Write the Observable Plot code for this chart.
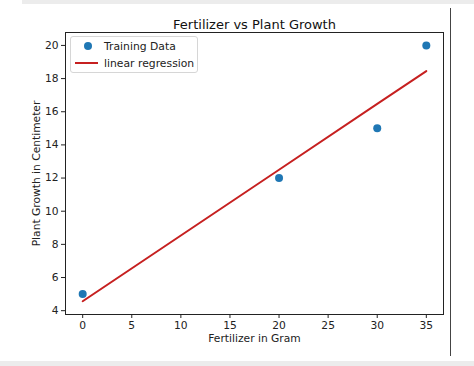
<!DOCTYPE html>
<html>
<head>
<meta charset="utf-8">
<script src="https://cdn.jsdelivr.net/npm/d3@7"></script>
<script src="https://cdn.jsdelivr.net/npm/@observablehq/plot@0.6"></script>
<style>
  html, body { margin: 0; padding: 0; background: #fff; }
  body { width: 474px; height: 366px; position: relative; overflow: hidden; font-family: "DejaVu Sans", sans-serif; }
  #chart { position: absolute; left: 0; top: 0; }
  .band-top { position: absolute; left: 22px; top: 0; width: 452px; height: 4px; background: #ececec; }
  .band-bot { position: absolute; left: 0; top: 361px; width: 474px; height: 5px; background: #ececec; }
  .vline { position: absolute; left: 450px; top: 8px; width: 1.3px; height: 348px; background: #444; }
  .legend { position: absolute; left: 70px; top: 36px; width: 126px; height: 35px; border: 1px solid #d6d6d6; border-radius: 3px; background: rgba(255,255,255,0.85); }
</style>
</head>
<body>
<div class="band-top"></div>
<div class="band-bot"></div>
<div class="vline"></div>
<div id="chart"></div>
<div class="legend">
  <svg width="126" height="35" style="position:absolute;left:0;top:0;font-family:'DejaVu Sans',sans-serif;font-size:10.8px">
    <circle cx="17" cy="9" r="4" fill="#1f77b4"></circle>
    <text x="33" y="13" fill="#222">Training Data</text>
    <line x1="4" x2="27" y1="26" y2="26" stroke="#c62020" stroke-width="2"></line>
    <text x="33" y="30" fill="#222">linear regression</text>
  </svg>
</div>
<script>
const fertilizer = [0, 20, 30, 35];
const growth = [5, 12, 15, 20];
const fitX = [0, 20, 30, 35];
const fitY = [4.57, 12.50, 16.47, 18.45];
const xTicks = [0, 5, 10, 15, 20, 25, 30, 35];
const yTicks = [4, 6, 8, 10, 12, 14, 16, 18, 20];
const titleText = "Fertilizer vs Plant Growth";
const xLabel = "Fertilizer in Gram";
const yLabel = "Plant Growth in Centimeter";

const points = fertilizer.map((x, i) => ({x, y: growth[i]}));
const fit = fitX.map((x, i) => ({x, y: fitY[i]}));

const chart = Plot.plot({
  width: 474,
  height: 366,
  marginLeft: 65,
  marginRight: 31,
  marginTop: 32,
  marginBottom: 52,
  style: {fontFamily: "DejaVu Sans, sans-serif", fontSize: "10.7px", color: "#222", background: "transparent"},
  x: {domain: [-1.75, 36.75], ticks: xTicks, label: null},
  y: {domain: [3.77, 20.78], ticks: yTicks, label: null},
  marks: [
    Plot.line(fit, {x: "x", y: "y", stroke: "#c62020", strokeWidth: 2}),
    Plot.dot(points, {x: "x", y: "y", r: 4, fill: "#1f77b4"}),
    Plot.frame({stroke: "#222", strokeWidth: 1}),
    Plot.axisX({ticks: xTicks, tickSize: 4, tickPadding: 3, label: null, fontSize: 10.7, stroke: "#222"}),
    Plot.axisY({ticks: yTicks, tickSize: 4, tickPadding: 3, label: null, fontSize: 10.7, stroke: "#222"}),
    Plot.text([titleText], {frameAnchor: "top", dy: -13, fontSize: 13, fill: "#111"}),
    Plot.text([xLabel], {frameAnchor: "bottom", dy: 27, fontSize: 10.7, fill: "#222"}),
    Plot.text([yLabel], {frameAnchor: "left", dx: -29, rotate: -90, textAnchor: "middle", fontSize: 10.7, fill: "#222"})
  ]
});
document.getElementById("chart").appendChild(chart);
</script>
</body>
</html>
